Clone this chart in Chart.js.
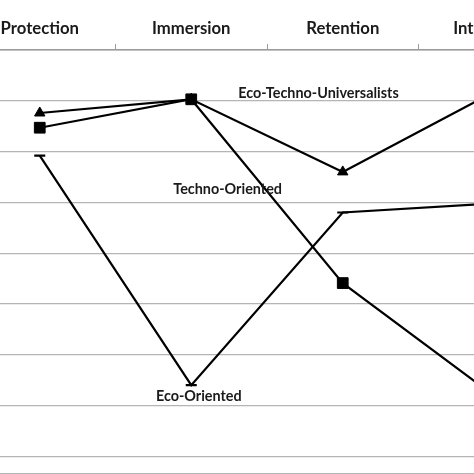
<!DOCTYPE html>
<html>
<head>
<meta charset="utf-8">
<script src="https://cdn.jsdelivr.net/npm/chart.js@4/dist/chart.umd.min.js"></script>
<style>
  html, body { margin: 0; width: 474px; height: 474px; overflow: hidden; background: #fff; }
  #wrap { position: absolute; left: -36px; top: 0; width: 606px; height: 474px; }
</style>
</head>
<body>
<div id="wrap"><canvas id="myChart"></canvas></div>
<script>
// categories along the top axis (the last one is cut off by the frame)
const stages = ["Protection", "Immersion", "Retention", "Integration"];

// profile scores (axis runs downward)
const ecoTechnoUniversalists = [1.24, 0.97, 2.4, 0.82];
const technoOriented = [1.53, 0.97, 4.59, 6.81];
const ecoOriented = [2.08, 6.6, 3.2, 3.02];

// text labels next to the lines: [category index, score]
const noteText = ["Eco-Techno-Universalists", "Techno-Oriented", "Eco-Oriented"];
const noteAt = [[1.84, 0.845], [1.24, 2.75], [1.05, 6.82]];

const notes = {
  id: "notes",
  afterDatasetsDraw(chart) {
    const ctx = chart.ctx;
    const x = chart.scales.x;
    const y = chart.scales.y;
    ctx.save();
    ctx.font = "bold 14.4px Lato";
    ctx.fillStyle = "#1a1a1a";
    ctx.textAlign = "center";
    ctx.textBaseline = "middle";
    noteText.forEach((t, i) => {
      ctx.fillText(t, x.getPixelForValue(noteAt[i][0]), y.getPixelForValue(noteAt[i][1]));
    });
    ctx.restore();
  },
};

const lineStyle = {
  borderColor: "#000",
  backgroundColor: "#000",
  borderWidth: 2.2,
  pointBorderColor: "#000",
  pointBackgroundColor: "#000",
  pointBorderWidth: 1,
  tension: 0,
};

new Chart(document.getElementById("myChart").getContext("2d"), {
  type: "line",
  data: {
    labels: stages,
    datasets: [
      {
        ...lineStyle,
        label: "Eco-Oriented",
        data: ecoOriented,
        pointStyle: "line",
        pointRadius: 5.5,
        pointBorderWidth: 2.2,
      },
      {
        ...lineStyle,
        label: "Eco-Techno-Universalists",
        data: ecoTechnoUniversalists,
        pointStyle: "triangle",
        pointRadius: 6,
      },
      {
        ...lineStyle,
        label: "Techno-Oriented",
        data: technoOriented,
        pointStyle: "rect",
        pointRadius: 7.6,
      },
    ],
  },
  options: {
    responsive: true,
    maintainAspectRatio: false,
    animation: false,
    layout: { autoPadding: false, padding: { top: 14, left: 0, right: 0, bottom: 0 } },
    plugins: { legend: { display: false }, tooltip: { enabled: false } },
    scales: {
      x: {
        position: "top",
        offset: true,
        grid: {
          offset: true,
          drawOnChartArea: false,
          drawTicks: true,
          tickLength: 6,
          color: "#9a9a9a",
          lineWidth: 1,
        },
        border: { color: "#9a9a9a", width: 1.5 },
        ticks: {
          color: "#1a1a1a",
          padding: 5,
          font: { family: "Lato", size: 16.7, weight: "bold" },
          maxRotation: 0,
          autoSkip: false,
        },
      },
      y: {
        reverse: true,
        min: 0,
        max: 8.35,
        grid: { color: "#b5b5b5", lineWidth: 1.2, drawTicks: false },
        border: { display: false },
        ticks: { display: false, stepSize: 1 },
      },
    },
  },
  plugins: [notes],
});
</script>
</body>
</html>
